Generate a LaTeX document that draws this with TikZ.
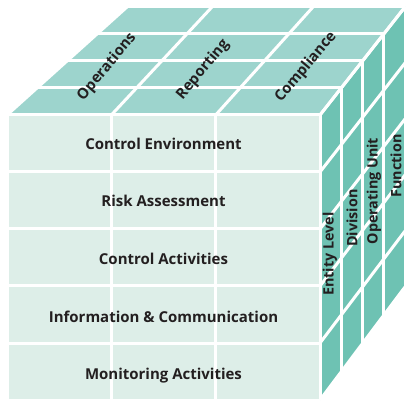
\documentclass[tikz,border=0pt]{standalone}
\usepackage{fontspec}
\setmainfont{Open Sans}
\usepackage{xcolor}
\usepackage{tikz}
\usetikzlibrary{calc}
\definecolor{frontcol}{HTML}{DDEEE8}
\definecolor{topcol}{HTML}{9DD4CD}
\definecolor{sidecol}{HTML}{6EC2B3}
\definecolor{labelcol}{HTML}{231F20}
\tikzstyle{gap} = [draw=white, line width=3pt]
\tikzstyle{rowlabel} = [anchor=base, inner sep=0pt, text=labelcol, font=\fontsize{15}{18}\selectfont\bfseries]
\tikzstyle{toplabel} = [inner sep=0pt, text=labelcol, rotate=50, font=\fontsize{14.8}{18}\selectfont\bfseries]
\tikzstyle{sidelabel} = [inner sep=0pt, text=labelcol, rotate=90, font=\fontsize{14.3}{17}\selectfont\bfseries]

\begin{document}
\begin{tikzpicture}[x=1pt, y=-1pt]
\useasboundingbox (0,0) rectangle (415,403);
\fill [frontcol] (7,115) rectangle (320,400);
\fill [topcol] (7,115) -- (320,115) -- (405,7) -- (127,7) -- cycle;
\fill [sidecol] (320,115) -- (405,7) -- (405,287) -- (320,400) -- cycle;
% front grid
\foreach \i in {0,...,5}
  \draw [gap] (7,{115+57*\i}) -- (320,{115+57*\i});
\foreach \u in {0,...,3}
  \draw [gap] ({7+\u*313/3},115) -- ({7+\u*313/3},400);
% top grid
\foreach \w in {0,...,4}
  \draw [gap] ({7+30*\w},{115-27*\w}) -- ({320+21.25*\w},{115-27*\w});
\foreach \u/\b in {0/127,1/212,2/313,3/405}
  \draw [gap] ({7+\u*313/3},115) -- (\b,7);
% side grid
\foreach \w in {0,...,4}
  \draw [gap] ({320+21.25*\w},{115-27*\w}) -- ({320+21.25*\w},{400-28.25*\w});
\foreach \i in {0,...,5}
  \draw [gap] (320,{115+57*\i}) -- (405,{115+57*\i-4*(27+0.25*\i)});

\node [rowlabel] (envt) at (163.5,149.5) {Control Environment};
\node [rowlabel] (risk) at (163.5,206.5) {Risk Assessment};
\node [rowlabel] (acts) at (163.5,264.5) {Control Activities};
\node [rowlabel] (info) at (163.5,322.5) {Information \& Communication};
\node [rowlabel] (moni) at (163.5,379.5) {Monitoring Activities};

\node [toplabel] (oper) at (107,67) {Operations};
\node [toplabel] (repo) at (203,70) {Reporting};
\node [toplabel] (comp) at (306,67) {Compliance};

\node [sidelabel] (enti) at (330,254) {Entity Level};
\node [sidelabel] (divi) at (352,218) {Division};
\node [sidelabel] (unit) at (374,191) {Operating Unit};
\node [sidelabel] (func) at (396,166) {Function};
\end{tikzpicture}
\end{document}
